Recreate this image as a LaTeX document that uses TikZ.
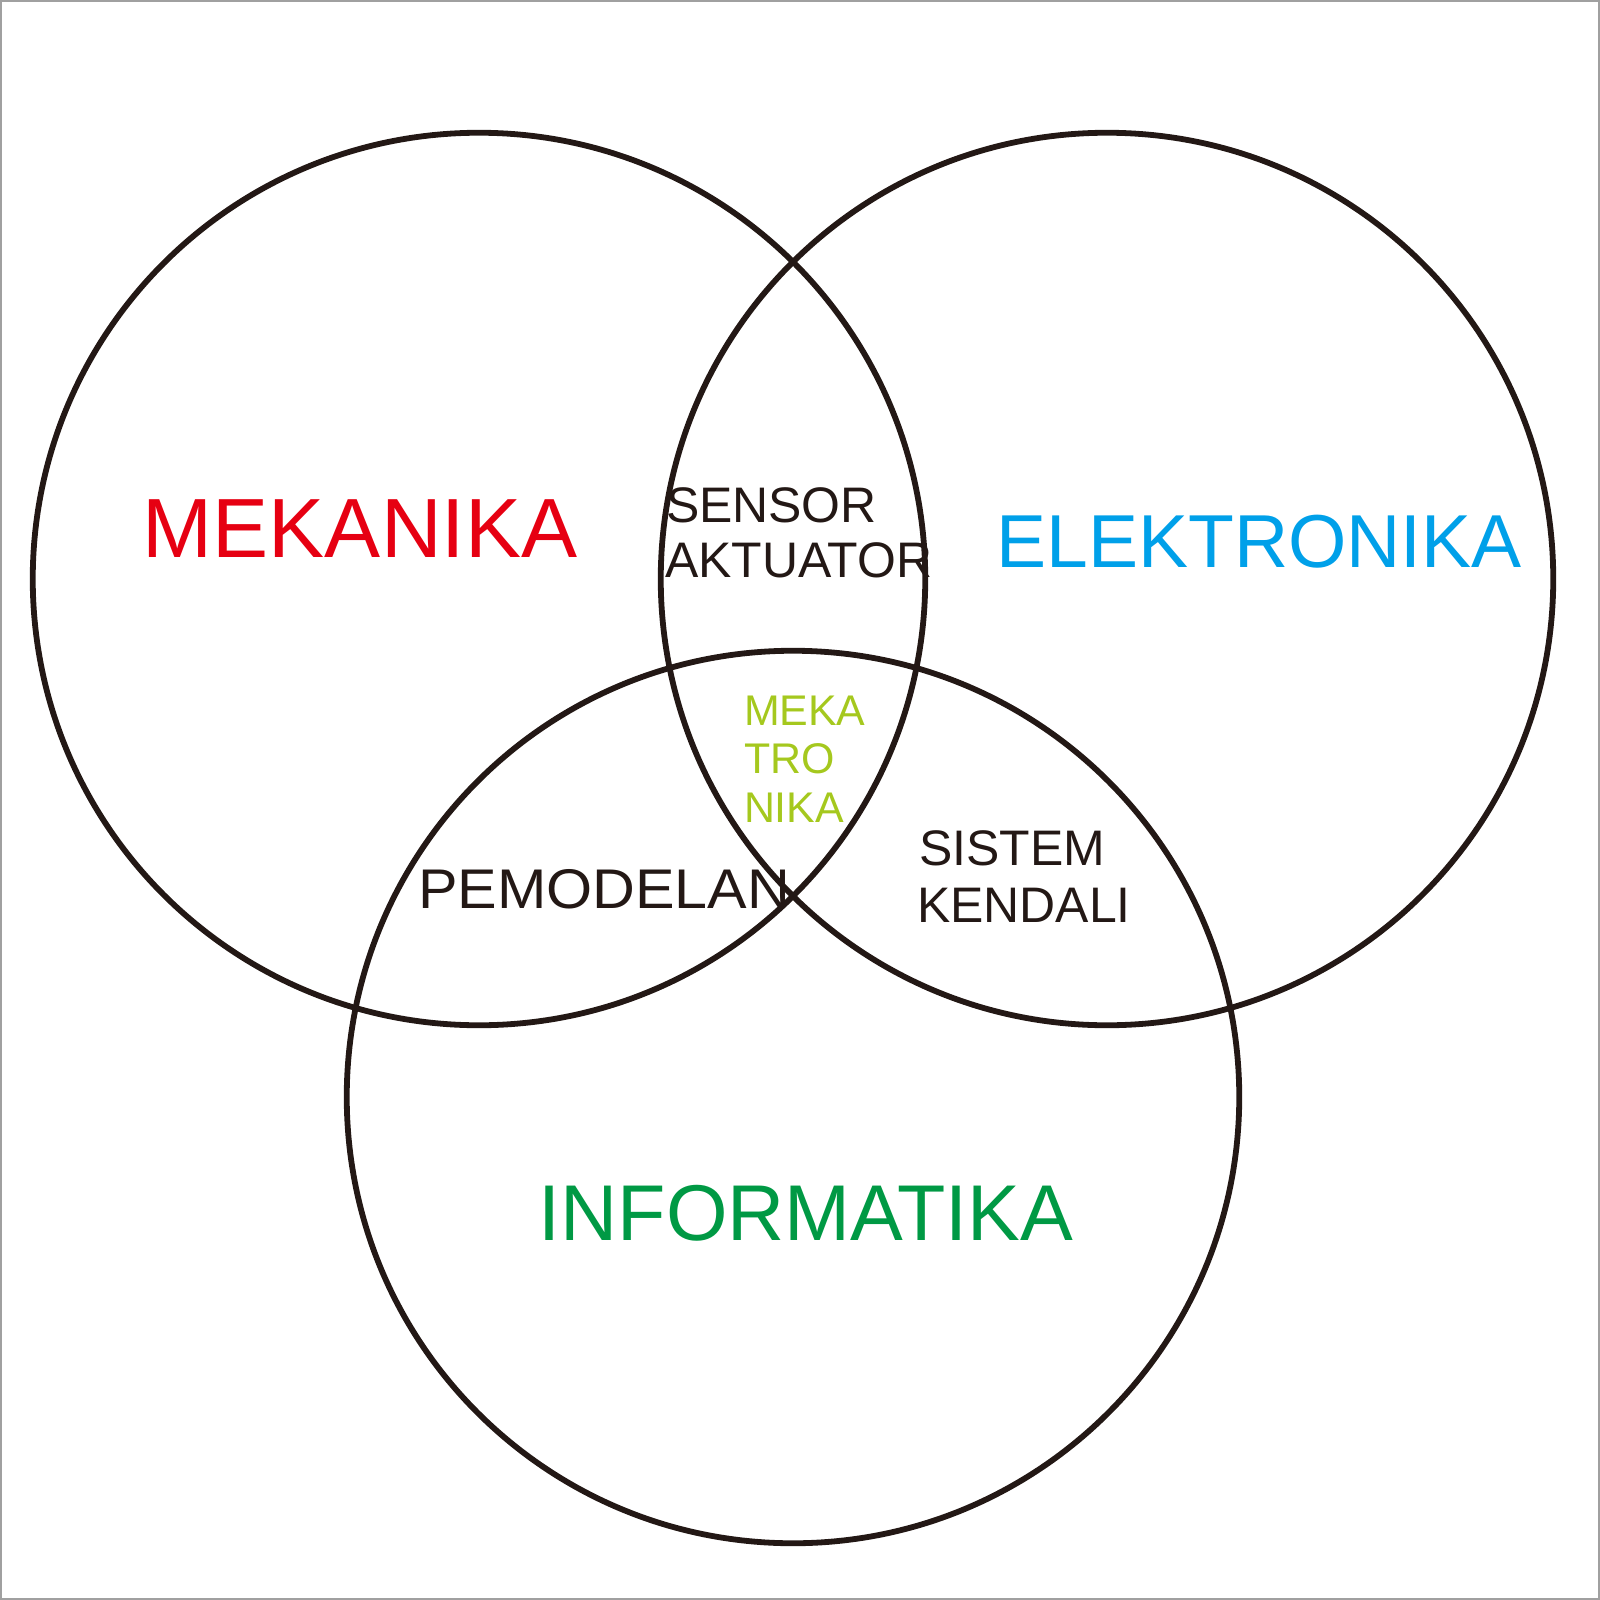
\documentclass[tikz,border=0pt]{standalone}
\usepackage{fontspec}
\setmainfont{Liberation Sans}
\definecolor{ink}{RGB}{35,24,21}
\definecolor{mekred}{RGB}{230,0,18}
\definecolor{elblue}{RGB}{0,160,233}
\definecolor{infgreen}{RGB}{0,153,68}
\definecolor{mtgreen}{RGB}{165,200,30}
\definecolor{frame}{RGB}{160,160,160}
\begin{document}
\begin{tikzpicture}[x=0.01cm,y=-0.01cm,
  venn/.style={circle,draw=ink,line width=1.65pt,inner sep=0pt,minimum size=8.92cm},
  lbl/.style={inner sep=0pt,outer sep=0pt},
  big/.style={lbl,anchor=base,font=\fontsize{23.9pt}{28pt}\selectfont},
  mid/.style={lbl,anchor=base west,text=ink,font=\fontsize{14.2pt}{17pt}\selectfont},
  small/.style={lbl,anchor=base west,text=mtgreen,font=\fontsize{12.2pt}{15pt}\selectfont}]
\useasboundingbox (0,0) rectangle (1600,1600);
\draw[frame,line width=0.6pt] (1,1) rectangle (1599,1599);
\node[venn] (mek) at (479,579) {};
\node[venn] (ele) at (1107,579) {};
\node[venn] (inf) at (793,1097) {};
\node[big,text=mekred] (tmek) at (360,557) {MEKANIKA};
\node[big,text=elblue,font=\fontsize{21.34pt}{25pt}\selectfont] (tele) at (1259,567) {ELEKTRONIKA};
\node[big,text=infgreen,font=\fontsize{22.5pt}{26pt}\selectfont] (tinf) at (806,1240) {INFORMATIKA};
\node[mid] (sen) at (666,522) {SENSOR};
\node[mid] (akt) at (665,577) {AKTUATOR};
\node[small] (m1) at (744,725) {MEKA};
\node[small] (m2) at (744,773) {TRO};
\node[small] (m3) at (744,822) {NIKA};
\node[mid,font=\fontsize{15.9pt}{19pt}\selectfont,xscale=1.06] (pem) at (418,908) {PEMODELAN};
\node[mid] (sis) at (919,865) {SISTEM};
\node[mid] (ken) at (917,922) {KENDALI};
\end{tikzpicture}
\end{document}
